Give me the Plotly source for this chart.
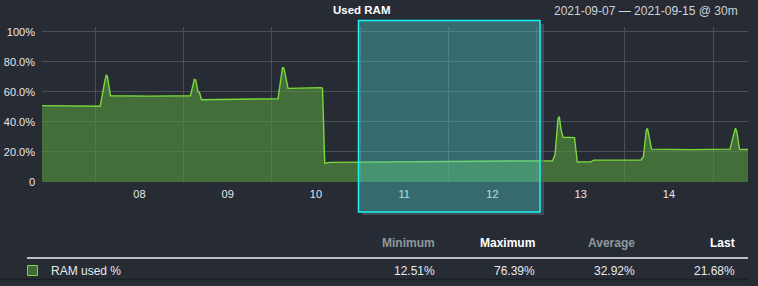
import plotly.graph_objects as go

# ---- data ----
times = [
    "2021-09-07 09:30", "2021-09-08 01:20", "2021-09-08 02:30", "2021-09-08 02:58",
    "2021-09-08 03:16", "2021-09-08 04:08", "2021-09-08 14:53", "2021-09-09 01:53",
    "2021-09-09 02:55", "2021-09-09 03:18", "2021-09-09 03:56", "2021-09-09 04:20",
    "2021-09-09 04:53", "2021-09-09 15:21", "2021-09-10 01:41", "2021-09-10 02:55",
    "2021-09-10 03:19", "2021-09-10 04:24", "2021-09-10 13:31", "2021-09-10 13:47",
    "2021-09-10 14:23", "2021-09-10 15:50", "2021-09-11 16:18", "2021-09-12 05:54",
    "2021-09-13 04:20", "2021-09-13 05:01", "2021-09-13 05:50", "2021-09-13 06:11",
    "2021-09-13 06:39", "2021-09-13 07:11", "2021-09-13 10:19", "2021-09-13 11:05",
    "2021-09-13 14:48", "2021-09-13 15:37", "2021-09-14 04:24", "2021-09-14 05:05",
    "2021-09-14 05:50", "2021-09-14 06:10", "2021-09-14 06:35", "2021-09-14 07:16",
    "2021-09-14 17:44", "2021-09-15 04:37", "2021-09-15 05:26", "2021-09-15 06:06",
    "2021-09-15 06:31", "2021-09-15 07:11", "2021-09-15 09:30",
]
ram_used = [
    50.9, 50.5, 66.0, 71.1,
    70.5, 57.5, 57.2, 57.5,
    68.4, 68.0, 60.2, 59.5,
    54.8, 55.0, 55.5, 76.39,
    75.5, 62.4, 62.9, 62.3,
    12.51, 13.1, 13.4, 13.9,
    14.2, 18.0, 42.0, 43.6,
    35.0, 29.8, 29.6, 13.3,
    13.4, 14.6, 14.7, 17.0,
    34.5, 35.8, 30.0, 21.9,
    21.6, 21.9, 30.0, 35.8,
    33.0, 21.8, 21.68,
]
day_lines = ["2021-09-08", "2021-09-09", "2021-09-10", "2021-09-11",
             "2021-09-12", "2021-09-13", "2021-09-14", "2021-09-15"]
day_centers = ["2021-09-08 12:00", "2021-09-09 12:00", "2021-09-10 12:00",
               "2021-09-11 12:00", "2021-09-12 12:00", "2021-09-13 12:00",
               "2021-09-14 12:00"]
day_labels = ["08", "09", "10", "11", "12", "13", "14"]
y_ticks = [0, 20, 40, 60, 80, 100]
y_labels = ["0", "20.0%", "40.0%", "60.0%", "80.0%", "100%"]
x_range = ["2021-09-07 09:30", "2021-09-15 09:30"]
stat_names = ["Minimum", "Maximum", "Average", "Last"]
stat_values = ["12.51%", "76.39%", "32.92%", "21.68%"]
series_name = "RAM used %"
title_text = "Used RAM"
period_text = "2021-09-07 \u2014 2021-09-15 @ 30m"

# ---- style ----
BG = "#272b34"
GRID = "#4a505a"
FONT = "Liberation Sans, Arial, sans-serif"
W, H = 758, 286
L, R, T, B = 42, 10, 27, 104
PW, PH = W - L - R, H - T - B


def px(x):
    return (x - L) / PW


def py(y):
    return (H - B - y) / PH


fig = go.Figure()
fig.add_trace(go.Scatter(
    x=times, y=ram_used, mode="lines", fill="tozeroy",
    fillcolor="rgba(86,150,61,0.62)",
    line=dict(color="#7cd83c", width=1.4),
    showlegend=False, hoverinfo="skip", xaxis="x", yaxis="y",
))
# invisible trace to anchor the grid axis
fig.add_trace(go.Scatter(
    x=[times[0]], y=[ram_used[0]], mode="markers", marker=dict(opacity=0),
    showlegend=False, hoverinfo="skip", xaxis="x2", yaxis="y",
))

fig.update_layout(
    width=W, height=H,
    margin=dict(l=L, r=R, t=T, b=B, autoexpand=False),
    paper_bgcolor=BG, plot_bgcolor=BG,
    font=dict(family=FONT, color="#e0e3e6", size=11),
    hovermode=False,
    xaxis=dict(
        type="date", range=x_range, tickmode="array",
        tickvals=day_centers, ticktext=day_labels,
        showgrid=False, zeroline=False, showline=False, ticks="",
        tickfont=dict(size=11, color="#e6e8ea"), ticklabelstandoff=4,
        fixedrange=True, automargin=False,
    ),
    xaxis2=dict(
        type="date", range=x_range, overlaying="x", matches="x",
        tickmode="array", tickvals=day_lines, showticklabels=False,
        showgrid=True, gridcolor=GRID, gridwidth=1, zeroline=False,
        showline=False, ticks="", automargin=False,
    ),
    yaxis=dict(
        range=[0, 103.3], tickmode="array", tickvals=y_ticks, ticktext=y_labels,
        showgrid=True, gridcolor=GRID, gridwidth=1, zeroline=False,
        showline=False, ticks="", tickfont=dict(size=11, color="#e6e8ea"),
        ticklabelstandoff=6, fixedrange=True, automargin=False,
    ),
)

shapes = []
# selection shadow
shapes.append(dict(type="rect", xref="paper", yref="paper",
                   x0=px(540), x1=px(544), y0=py(215), y1=py(24),
                   fillcolor="rgba(95,98,104,0.55)", line=dict(width=0), layer="above"))
shapes.append(dict(type="rect", xref="paper", yref="paper",
                   x0=px(362), x1=px(540), y0=py(215), y1=py(212),
                   fillcolor="rgba(95,98,104,0.55)", line=dict(width=0), layer="above"))
# selection rectangle
shapes.append(dict(type="rect", xref="paper", yref="paper",
                   x0=px(358.5), x1=px(540), y0=py(212), y1=py(20.5),
                   fillcolor="rgba(80,210,205,0.38)",
                   line=dict(color="#19f5f5", width=1.5), layer="above"))
# legend table lines
shapes.append(dict(type="line", xref="paper", yref="paper",
                   x0=px(27), x1=px(748), y0=py(258), y1=py(258),
                   line=dict(color="#f2f2f2", width=1.5)))
shapes.append(dict(type="line", xref="paper", yref="paper",
                   x0=px(0), x1=px(748), y0=py(279.5), y1=py(279.5),
                   line=dict(color="#1b1e24", width=1.5)))
# legend swatch
shapes.append(dict(type="rect", xref="paper", yref="paper",
                   x0=px(27.5), x1=px(37.5), y0=py(275.5), y1=py(265.5),
                   fillcolor="#436b39", line=dict(color="#7cd83c", width=1)))
fig.update_layout(shapes=shapes)

ann = []
ann.append(dict(text="<b>" + title_text + "</b>", x=px(362), y=py(10),
                xref="paper", yref="paper", showarrow=False, xanchor="center",
                yanchor="middle", font=dict(size=11.5, color="#ffffff", family=FONT)))
ann.append(dict(text=period_text, x=px(740), y=py(11),
                xref="paper", yref="paper", showarrow=False, xanchor="right",
                yanchor="middle", font=dict(size=12, color="#cfd3d7", family=FONT)))
right_edges = [437, 537, 637, 737]
header_colors = ["#8e989f", "#ffffff", "#8e989f", "#ffffff"]
for name, val, xr, col in zip(stat_names, stat_values, right_edges, header_colors):
    ann.append(dict(text="<b>" + name + "</b>", x=px(xr), y=py(243),
                    xref="paper", yref="paper", showarrow=False, xanchor="right",
                    yanchor="middle", font=dict(size=12, color=col, family=FONT)))
    ann.append(dict(text=val, x=px(xr), y=py(270.5),
                    xref="paper", yref="paper", showarrow=False, xanchor="right",
                    yanchor="middle", font=dict(size=12, color="#e8eaec", family=FONT)))
ann.append(dict(text=series_name, x=px(49), y=py(270.5),
                xref="paper", yref="paper", showarrow=False, xanchor="left",
                yanchor="middle", font=dict(size=12, color="#e8eaec", family=FONT)))
fig.update_layout(annotations=ann)

fig.write_html("out.html")
